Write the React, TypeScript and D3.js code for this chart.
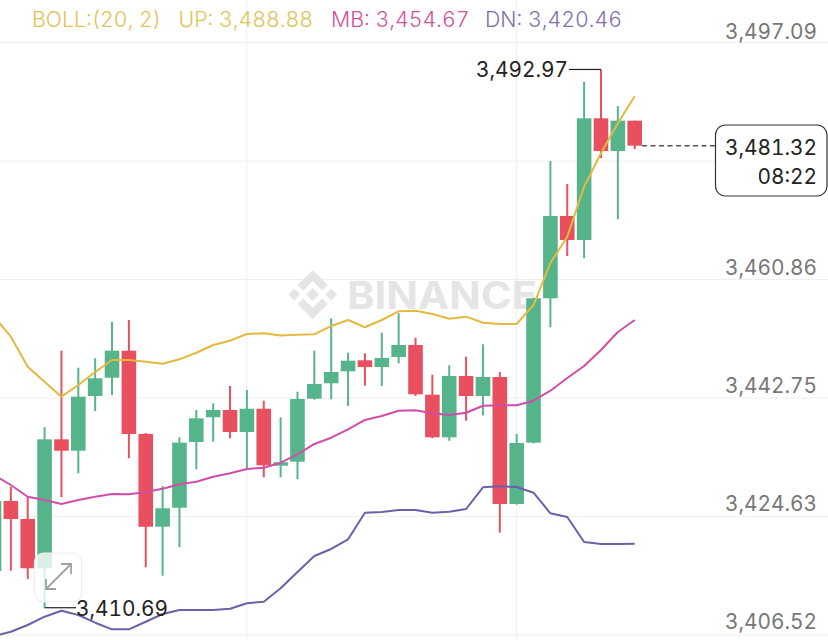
import React from 'react';
import * as d3 from 'd3';

const width = 828;
const height = 640;

// o/h/l/c, oldest first
const opens = [
  3416.30, 3427.00, 3424.25, 3416.72, 3436.43, 3434.69, 3443.05, 3445.85, 3449.98, 3437.25,
  3423.07, 3425.98, 3436.02, 3439.80, 3440.91, 3437.55, 3441.11, 3432.40, 3433.01, 3442.64,
  3445.00, 3446.83, 3448.51, 3447.49, 3449.02, 3450.85, 3443.25, 3436.74, 3446.11, 3443.05,
  3445.96, 3426.55, 3435.92, 3457.99, 3470.57, 3466.90, 3485.50, 3480.50, 3485.14,
];
const highs = [
  3428.00, 3429.19, 3427.62, 3438.31, 3449.98, 3447.38, 3448.82, 3454.41, 3454.67, 3437.40,
  3429.30, 3436.74, 3440.91, 3441.94, 3444.58, 3443.97, 3442.34, 3439.80, 3443.71, 3449.98,
  3454.93, 3449.67, 3449.58, 3452.73, 3455.70, 3451.97, 3446.31, 3447.75, 3449.06, 3450.96,
  3446.72, 3437.25, 3458.10, 3478.98, 3475.46, 3491.10, 3492.97, 3487.38, 3485.14,
];
const lows = [
  3416.00, 3416.35, 3415.08, 3410.69, 3427.57, 3431.24, 3440.76, 3443.21, 3433.53, 3416.87,
  3415.58, 3419.93, 3431.85, 3436.07, 3436.59, 3432.00, 3430.63, 3430.63, 3430.32, 3442.50,
  3442.55, 3441.53, 3444.63, 3444.58, 3448.05, 3443.05, 3436.60, 3436.22, 3439.28, 3440.10,
  3422.16, 3426.44, 3435.80, 3453.56, 3464.45, 3464.10, 3479.43, 3470.06, 3480.81,
];
const closes = [
  3427.00, 3424.25, 3416.72, 3436.43, 3434.69, 3442.95, 3445.76, 3449.98, 3437.25, 3423.07,
  3425.89, 3435.92, 3439.64, 3440.91, 3437.55, 3441.11, 3432.46, 3432.92, 3442.60, 3444.89,
  3446.72, 3448.45, 3447.49, 3448.86, 3450.85, 3443.31, 3436.74, 3446.11, 3443.05, 3445.96,
  3426.55, 3435.87, 3457.99, 3470.57, 3466.90, 3485.50, 3480.50, 3485.14, 3481.32,
];

const bollUp = [
  3455.21, 3452.12, 3447.53, 3445.24, 3442.95, 3444.74, 3446.72, 3448.56, 3448.56, 3448.30,
  3447.99, 3448.66, 3449.67, 3450.85, 3451.51, 3452.53, 3452.64, 3452.30, 3452.42, 3452.49,
  3453.75, 3454.67, 3453.56, 3454.67, 3456.00, 3456.09, 3455.59, 3454.87, 3455.18, 3454.26,
  3454.06, 3454.06, 3456.96, 3463.38, 3467.40, 3475.05, 3480.15, 3484.74, 3488.88,
];
const bollMid = [
  3430.98, 3429.45, 3427.66, 3427.16, 3426.55, 3427.16, 3427.66, 3428.07, 3428.03, 3428.38,
  3428.88, 3429.56, 3429.95, 3430.72, 3431.24, 3431.90, 3432.09, 3432.86, 3434.14, 3435.72,
  3436.68, 3437.96, 3439.39, 3440.00, 3440.81, 3440.87, 3440.41, 3440.15, 3440.50, 3441.57,
  3441.63, 3441.63, 3442.34, 3443.86, 3445.81, 3447.64, 3450.09, 3452.84, 3454.67,
];
const bollDn = [
  3406.37, 3407.02, 3408.05, 3409.32, 3410.23, 3409.58, 3408.40, 3407.39, 3407.39, 3408.55,
  3409.73, 3410.34, 3410.34, 3410.34, 3410.54, 3411.37, 3411.61, 3413.66, 3416.15, 3418.60,
  3419.67, 3421.15, 3425.22, 3425.32, 3425.63, 3425.63, 3425.22, 3425.37, 3425.78, 3429.10,
  3429.25, 3429.14, 3428.27, 3425.12, 3424.56, 3420.74, 3420.43, 3420.43, 3420.46,
];

const priceTicks = [3497.09, 3478.97, 3460.86, 3442.75, 3424.63, 3406.52];
const hiddenTick = 3478.97; // sits behind the price callout
const verticalGridAt = [15, 31];

const lastPrice = 3481.32;
const countdown = '08:22';
const maxPrice = 3492.97;
const minPrice = 3410.69;

const legendItems = [
  { text: 'BOLL:(20, 2)', x: 32, color: '#dfc458' },
  { text: 'UP: 3,488.88', x: 178.5, color: '#dfc458' },
  { text: 'MB: 3,454.67', x: 331, color: '#d0529c' },
  { text: 'DN: 3,420.46', x: 485, color: '#7f70ab' },
];

const UP_COLOR = '#56b48b';
const DOWN_COLOR = '#e8505f';
const FONT = 'Inter, "Noto Sans", sans-serif';
const LABEL_SIZE = 20.8;
const NUM_STYLE = { fontFeatureSettings: '"tnum"' };
const fmt = d3.format(',.2f');

const x = d3.scaleLinear().domain([0, opens.length - 1]).range([-6, 634.7]);
const y = d3.scaleLinear().domain([3406.52, 3497.09]).range([635, 42.5]);
// axis labels drift a little relative to the grid in the original
const labelY = d3.scaleLinear().domain(y.domain()).range([629, 39.3]);

const bandLine = d3.line<number>().x((_, i) => x(i)).y(d => y(d)).curve(d3.curveLinear);

function Watermark() {
  // binance diamond logo plus wordmark, centred on the plot
  return (
    <g fill="#e5e5e5">
      <g transform="translate(312.7,294.5)">
        <rect x={-4.6} y={-4.6} width={9.2} height={9.2} transform="rotate(45)" />
        <rect x={-4.2} y={-4.2} width={8.4} height={8.4} transform="translate(-18.5,0) rotate(45)" />
        <rect x={-4.2} y={-4.2} width={8.4} height={8.4} transform="translate(18.5,0) rotate(45)" />
        <path d="M0,-24 L15,-9 L9.5,-3.5 L0,-13 L-9.5,-3.5 L-15,-9 Z" transform="translate(0,-0.5)" />
        <path d="M0,24 L15,9 L9.5,3.5 L0,13 L-9.5,3.5 L-15,9 Z" transform="translate(0,0.5)" />
      </g>
      <text x={347} y={308.5} fontFamily={FONT} fontWeight={700} fontSize={38.5} textLength={190} lengthAdjust="spacingAndGlyphs">BINANCE</text>
    </g>
  );
}

export default function App() {
  const bodyW = 14.6;
  const axisX = 817;
  const lastY = y(lastPrice);
  const maxI = highs.indexOf(maxPrice);
  const minI = lows.indexOf(minPrice);

  return (
    <svg width={width} height={height} viewBox={`0 0 ${width} ${height}`}
      style={{ position: 'absolute', left: 0, top: 0, background: '#fff' }}>
      <g stroke="#efefef" strokeWidth={1}>
        {priceTicks.map(t => <line key={t} x1={0} x2={width} y1={y(t)} y2={y(t)} />)}
        {verticalGridAt.map(i => <line key={i} x1={x(i)} x2={x(i)} y1={0} y2={height} />)}
      </g>

      <Watermark />

      {opens.map((o, i) => {
        const c = closes[i];
        const color = c >= o ? UP_COLOR : DOWN_COLOR;
        return (
          <g key={i} fill={color} stroke={color}>
            <line x1={x(i)} x2={x(i)} y1={y(highs[i])} y2={y(lows[i])} strokeWidth={2} />
            <rect x={x(i) - bodyW / 2} width={bodyW} y={y(Math.max(o, c))}
              height={Math.abs(y(o) - y(c))} stroke="none" />
          </g>
        );
      })}

      <g fill="none" strokeWidth={2} strokeLinejoin="round">
        <path d={bandLine(bollUp) ?? ''} stroke="#e3ba3f" />
        <path d={bandLine(bollMid) ?? ''} stroke="#cf4fa6" />
        <path d={bandLine(bollDn) ?? ''} stroke="#6f5fa8" />
      </g>

      {legendItems.map(l => (
        <text key={l.text} x={l.x} y={26.5} fill={l.color} fontFamily={FONT} fontWeight={300} fontSize={21.3} style={NUM_STYLE}>{l.text}</text>
      ))}

      {priceTicks.filter(t => t !== hiddenTick).map(t => (
        <text key={t} x={axisX} y={labelY(t)} textAnchor="end" fill="#777" fontFamily={FONT} fontSize={LABEL_SIZE} style={NUM_STYLE}>{fmt(t)}</text>
      ))}

      {/* high / low markers */}
      <path d={`M${x(maxI)},${y(maxPrice)} H569`} fill="none" stroke="#222" strokeWidth={1.2} />
      <text x={568} y={y(maxPrice) + 8} textAnchor="end" fill="#222" fontFamily={FONT} fontSize={LABEL_SIZE} style={NUM_STYLE}>{fmt(maxPrice)}</text>
      <path d={`M${x(minI)},${y(minPrice)} H76`} fill="none" stroke="#222" strokeWidth={1.2} />
      <text x={76} y={y(minPrice) + 8} fill="#222" fontFamily={FONT} fontSize={LABEL_SIZE} style={NUM_STYLE}>{fmt(minPrice)}</text>

      {/* last price */}
      <line x1={x(opens.length - 1) + bodyW / 2} x2={715} y1={lastY} y2={lastY} stroke="#555" strokeWidth={1.5} strokeDasharray="5 3.5" />
      <rect x={715.5} y={125} width={111.5} height={71} rx={10} fill="#fff" stroke="#333" strokeWidth={1.2} />
      <text x={axisX} y={155.3} textAnchor="end" fill="#222" fontFamily={FONT} fontSize={LABEL_SIZE} style={NUM_STYLE}>{fmt(lastPrice)}</text>
      <text x={axisX} y={184.3} textAnchor="end" fill="#222" fontFamily={FONT} fontSize={LABEL_SIZE} style={NUM_STYLE}>{countdown}</text>

      {/* expand button */}
      <rect x={34.5} y={553} width={47} height={49} rx={9} fill="#fff" fillOpacity={0.78} stroke="#eeeeee" strokeWidth={1.2} />
      <g fill="none" stroke="#a0a0a0" strokeWidth={1.8}>
        <path d="M46,589 L71,564" />
        <path d="M61,564 H71 V574" />
        <path d="M46,579 V589 H56" />
      </g>
    </svg>
  );
}
